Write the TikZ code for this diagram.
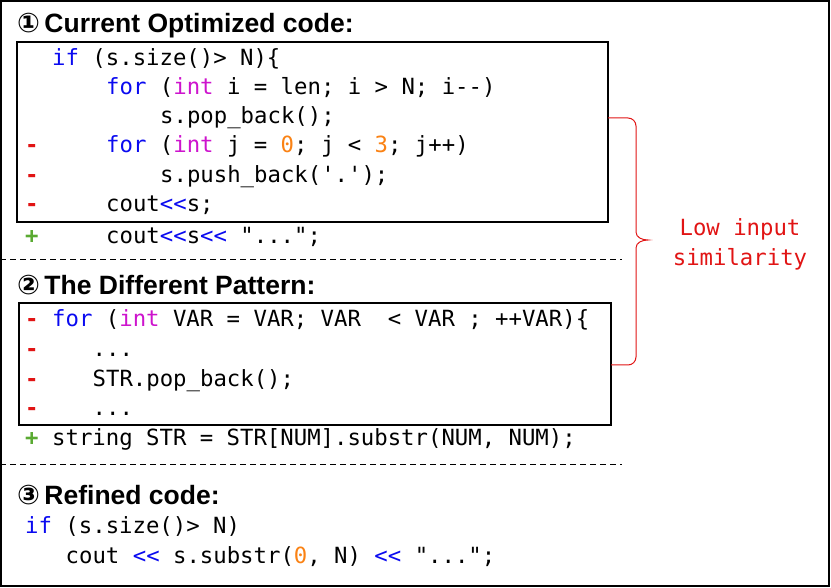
\documentclass[tikz,border=0pt]{standalone}
\usepackage{fontspec}
\setmonofont{DejaVu Sans Mono}
\setsansfont{Liberation Sans}
\newfontfamily\symf{DejaVu Sans}
\definecolor{kw}{RGB}{10,10,240}
\definecolor{ty}{RGB}{205,20,205}
\definecolor{nm}{RGB}{250,130,20}
\definecolor{mi}{RGB}{225,20,20}
\definecolor{pl}{RGB}{90,170,50}
\newcommand{\K}[1]{\textcolor{kw}{#1}}
\newcommand{\T}[1]{\textcolor{ty}{#1}}
\newcommand{\M}[1]{\textcolor{nm}{#1}}
\tikzset{
 cl/.style={anchor=base west,inner sep=0pt,font=\ttfamily\fontsize{22.3}{22}\selectfont},
 hd/.style={anchor=base west,inner sep=0pt,font=\sffamily\bfseries\fontsize{26.5}{26}\selectfont},
 mk/.style={cl,text=mi,font=\ttfamily\bfseries\fontsize{22.3}{22}\selectfont},
 pk/.style={cl,text=pl,font=\ttfamily\bfseries\fontsize{22.3}{22}\selectfont},
 box/.style={draw,line width=1.2pt},
 sep/.style={dashed,line width=1pt,dash pattern=on 6pt off 4pt}
}
\begin{document}
\begin{tikzpicture}[x=1pt,y=-1pt]
\useasboundingbox (0,0) rectangle (831,588);
\draw[line width=1.5pt] (1,1) rectangle (829,586);
\def\cw{13.5}
% section 1
\node[hd] (h1) at (17,33) {{\symf\fontsize{27}{27}\selectfont ①}\,Current Optimized code:};
\draw[box] (17,42) rectangle (608,222);
\coordinate (b1) at (608,118);
\node[cl] (l1) at (25+2*\cw,66) {\K{if} (s.size()> N)\{};
\node[cl] (l2) at (25+6*\cw,95) {\K{for} (\T{int} i = len; i > N; i--)};
\node[cl] (l3) at (25+10*\cw,124) {s.pop\_back();};
\node[mk] (m4) at (25,153) {-};
\node[cl] (l4) at (25+6*\cw,153) {\K{for} (\T{int} j = \M{0}; j < \M{3}; j++)};
\node[mk] (m5) at (25,183) {-};
\node[cl] (l5) at (25+10*\cw,183) {s.push\_back('.');};
\node[mk] (m6) at (25,212) {-};
\node[cl] (l6) at (25+6*\cw,212) {cout\K{<<}s;};
\node[pk] (p7) at (25,244) {+};
\node[cl] (l7) at (25+6*\cw,244) {cout\K{<<}s\K{<<} "...";};
\draw[sep] (0,260) -- (622,260);
% section 2
\node[hd] (h2) at (17,295) {{\symf\fontsize{27}{27}\selectfont ②}\,The Different Pattern:};
\draw[box] (19,303) rectangle (611,425);
\coordinate (b2) at (611,365);
\node[mk] (n1) at (25,327) {-};
\node[cl] (q1) at (25+2*\cw,327) {\K{for} (\T{int} VAR = VAR; VAR\ \ < VAR ; ++VAR)\{};
\node[mk] (n2) at (25,357) {-};
\node[cl] (q2) at (25+5*\cw,357) {...};
\node[mk] (n3) at (25,387) {-};
\node[cl] (q3) at (25+5*\cw,387) {STR.pop\_back();};
\node[mk] (n4) at (25,416) {-};
\node[cl] (q4) at (25+5*\cw,416) {...};
\node[pk] (p5) at (25,445) {+};
\node[cl] (q5) at (25+2*\cw,445) {string STR = STR[NUM].substr(NUM, NUM);};
\draw[sep] (0,464) -- (622,464);
% section 3
\node[hd] (h3) at (17,504) {{\symf\fontsize{27}{27}\selectfont ③}\,Refined code:};
\node[cl] (r1) at (25,533) {\K{if} (s.size()> N)};
\node[cl] (r2) at (25+3*\cw,563) {cout \K{<<} s.substr(\M{0}, N) \K{<<} "...";};
% brace
\draw[mi,line width=1pt] (b1) -- (628,118) to[out=0,in=90] (636,126) -- (636,232) to[out=-90,in=180] (648,240) to[out=180,in=90] (636,248) -- (636,357) to[out=-90,in=0] (628,365) -- (b2);
\node[cl,anchor=base,text=mi] (lab1) at (740,236) {Low input};
\node[cl,anchor=base,text=mi] (lab2) at (740,266) {similarity};
\end{tikzpicture}
\end{document}
